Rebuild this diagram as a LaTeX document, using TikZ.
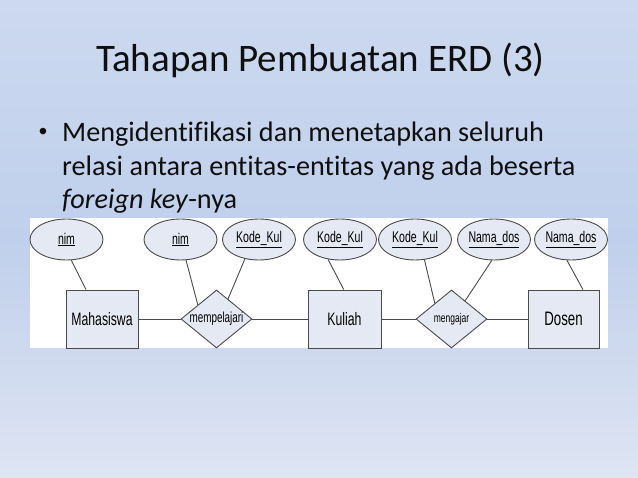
\documentclass[tikz,border=0pt]{standalone}
\usepackage{fontspec}
\setmainfont[Ligatures={NoCommon}]{Carlito}
\newfontfamily\dgfont[FakeStretch=0.68]{Liberation Sans}
\newfontfamily\bulfont{Liberation Sans}
\usetikzlibrary{shapes.geometric,calc}
\definecolor{bgtop}{RGB}{204,217,240}
\definecolor{bgmid}{RGB}{192,207,235}
\definecolor{bgbot}{RGB}{222,229,243}
\definecolor{nodefill}{RGB}{229,233,243}
\definecolor{edgecol}{RGB}{75,75,75}
\definecolor{txt}{RGB}{15,15,15}
\tikzset{
  bodytext/.style={anchor=base west, text=txt, font=\fontsize{28.2}{34}\selectfont, inner sep=0pt},
  attr/.style={ellipse, draw=edgecol, fill=nodefill, line width=0.9pt, minimum width=73pt, minimum height=41pt, inner sep=0pt, font=\dgfont\fontsize{15.5}{17}\selectfont},
  ent/.style={rectangle, draw=edgecol, fill=nodefill, line width=0.9pt, minimum width=72pt, minimum height=58pt, inner sep=0pt, font=\dgfont\fontsize{18}{20}\selectfont},
  rel/.style={diamond, draw=edgecol, fill=nodefill, line width=0.9pt, minimum width=71pt, minimum height=58pt, inner sep=0pt},
  link/.style={draw=edgecol, line width=0.9pt},
}
\begin{document}
\begin{tikzpicture}[x=1pt,y=-1pt]
\useasboundingbox (0,0) rectangle (638,478);
\shade[top color=bgtop, bottom color=bgbot, middle color=bgmid] (0,0) rectangle (638,478);
% title and text
\node[anchor=base, text=txt, font=\fontsize{39}{47}\selectfont, inner sep=0pt] (title) at (320.5,72) {Tahapan Pembuatan ERD (3)};
\node[anchor=base, text=txt, font=\bulfont\fontsize{24}{28}\selectfont, inner sep=0pt] (bul) at (43,140) {•};
\node[bodytext] (l1) at (62,142) {Mengidentifikasi dan menetapkan seluruh};
\node[bodytext] (l2) at (62,175.5) {relasi antara entitas-entitas yang ada beserta};
\node[bodytext] (l3) at (62,209) {\textit{foreign key}-nya};
% diagram background
\fill[white] (29.5,218) rectangle (608,348.5);
% attributes
\node[attr] (e1) at (66.5,239.5) {\underline{nim}};
\node[attr] (e2) at (180.5,239.5) {\underline{nim}};
\node[attr] (e3) at (259,239.5) {\underline{Kode\_Kul}};
\node[attr] (e4) at (340,239.5) {\underline{Kode\_Kul}};
\node[attr] (e5) at (415,239.5) {\underline{Kode\_Kul}};
\node[attr] (e6) at (494,239.5) {\underline{Nama\_dos}};
\node[attr] (e7) at (571,239.5) {\underline{Nama\_dos}};
% entities and relations
\node[ent] (mah) at (102,319) {Mahasiswa};
\node[ent, minimum width=73pt] (kul) at (344.5,319) {Kuliah};
\node[ent, minimum width=71pt, font=\dgfont\fontsize{19.5}{21}\selectfont] (dos) at (563.5,319) {Dosen};
\node[rel, label={[font=\dgfont\fontsize{14.5}{16}\selectfont]center:mempelajari}] (d1) at (216.5,319) {};
\node[rel, label={[font=\dgfont\fontsize{12.5}{14}\selectfont]center:mengajar}] (d2) at (451.5,319) {};
% connectors
\draw[link] (mah) -- (d1);
\draw[link] (d1) -- (kul);
\draw[link] (kul) -- (d2);
\draw[link] (d2) -- (dos);
\draw[link] (e1.-77) -- ($(mah.north west)!0.28!(mah.north east)$);
\draw[link] (e2.-75) -- ($(d1.west)!0.48!(d1.north)$);
\draw[link] (e3.-126) -- ($(d1.north)!0.32!(d1.east)$);
\draw[link] (e4.-121) -- ($(kul.north west)!0.49!(kul.north east)$);
\draw[link] (e5.-65) -- ($(d2.west)!0.535!(d2.north)$);
\draw[link] (e6.-96) -- ($(d2.north)!0.38!(d2.east)$);
\draw[link] (e7.-101) -- ($(dos.north west)!0.77!(dos.north east)$);
\end{tikzpicture}
\end{document}
